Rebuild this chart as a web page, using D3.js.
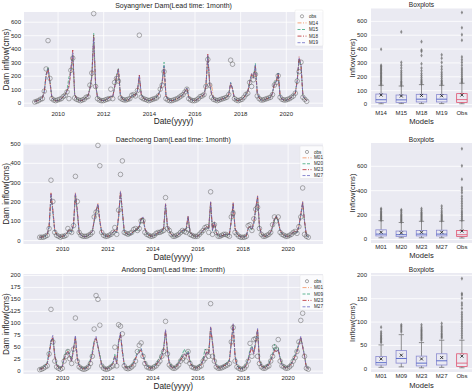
<!DOCTYPE html>
<html><head><meta charset="utf-8">
<script src="https://cdn.jsdelivr.net/npm/d3@7"></script>
<style>
body{margin:0;background:#fff;}
svg{display:block;font-family:"Liberation Sans",Arial,sans-serif;}
</style></head><body>
<svg id="c" width="474" height="391"></svg>
<script>
// ---------------- DATA ----------------
const startYear = 2009;
const xTickYears = [2010, 2012, 2014, 2016, 2018, 2020];

// Soyangriver (monthly, Jan 2009 - Dec 2020)
const soyangObs = [
 5,10,15,25,30,85,250,460,180,30,20,15,
 20,25,30,45,55,80,30,240,330,35,25,20,
 15,20,25,40,45,130,220,660,120,30,20,15,
 15,20,25,30,100,30,150,180,160,35,25,20,
 20,25,30,55,60,50,90,500,40,30,25,20,
 15,20,25,30,35,50,100,130,230,30,20,15,
 15,20,25,30,40,50,60,80,100,30,20,15,
 15,20,30,45,50,60,120,320,130,40,25,20,
 15,20,25,30,35,40,60,315,285,30,20,15,
 20,25,40,60,70,150,120,170,210,50,30,20,
 20,25,30,35,40,60,130,150,200,40,25,20,
 20,25,30,40,50,70,160,230,300,40,25,10];
const soyangM14 = [
 10,12,18,25,35,80,200,240,150,40,20,15,
 15,20,30,45,60,90,110,220,330,60,30,20,
 15,18,25,40,50,100,180,440,130,40,25,18,
 15,18,25,35,50,40,110,190,240,60,30,20,
 18,20,30,50,60,55,90,180,60,35,25,20,
 15,18,25,30,40,60,90,150,240,50,25,18,
 15,18,25,30,40,50,60,80,105,40,25,18,
 15,20,30,45,50,60,120,330,140,130,30,20,
 15,18,25,30,35,40,60,140,100,30,20,15,
 20,25,40,60,80,150,220,180,250,70,35,20,
 18,22,30,35,40,70,140,150,210,50,25,20,
 18,22,30,40,55,70,160,310,270,50,30,15];
const soyangM15 = [
 10,14,20,26,38,85,210,265,160,42,22,15,
 16,20,28,45,60,95,190,230,350,60,30,20,
 15,18,26,42,52,110,200,515,140,42,25,18,
 15,18,26,36,48,45,120,200,255,62,30,20,
 18,20,30,52,62,58,95,190,65,35,25,20,
 15,18,25,32,42,62,95,160,300,55,25,18,
 15,18,25,30,42,52,62,85,110,40,25,18,
 15,20,30,45,52,62,125,345,130,60,30,20,
 15,18,25,30,35,42,62,150,105,32,20,15,
 20,25,42,62,85,160,200,190,290,70,35,20,
 18,22,30,36,42,75,150,160,220,50,25,20,
 18,22,30,42,58,72,170,320,280,52,30,15];
const soyangM18 = [
 10,12,18,25,35,80,205,255,155,40,20,15,
 15,20,30,45,58,90,130,250,390,62,30,20,
 15,18,25,40,50,105,190,500,135,40,25,18,
 15,18,25,35,50,42,115,195,250,60,30,20,
 18,20,30,50,60,55,85,210,60,35,25,20,
 15,18,25,30,40,60,90,150,260,50,25,18,
 15,18,25,30,40,50,60,85,110,40,25,18,
 15,20,30,45,50,60,120,360,140,60,30,20,
 15,18,25,30,35,40,60,145,100,30,20,15,
 20,25,40,60,80,150,210,185,270,70,35,20,
 18,22,30,35,40,70,140,155,215,50,25,20,
 18,22,30,40,55,70,160,340,275,50,30,15];
const soyangM19 = [
 10,12,18,25,35,78,195,250,150,40,20,15,
 15,20,30,45,58,88,120,240,370,60,30,20,
 15,18,25,40,50,100,185,480,130,40,25,18,
 15,18,25,35,50,40,112,190,245,60,30,20,
 18,20,30,50,60,55,85,200,60,35,25,20,
 15,18,25,30,40,60,90,150,270,50,25,18,
 15,18,25,30,40,50,60,82,108,40,25,18,
 15,20,30,45,50,60,118,350,140,70,30,20,
 15,18,25,30,35,40,60,148,100,30,20,15,
 20,25,40,60,80,150,215,182,280,70,35,20,
 18,22,30,35,40,70,140,152,218,50,25,20,
 18,22,30,40,55,70,160,330,278,50,30,15];

// Daechoeng
const daechoengObs = [
 15,15,15,20,25,60,310,200,40,25,20,15,
 20,20,25,60,45,40,75,330,200,40,25,20,
 20,20,25,30,40,120,145,490,385,40,25,20,
 20,25,30,40,65,30,155,340,410,40,35,30,
 35,40,55,60,50,60,100,100,40,30,25,20,
 20,25,35,40,40,45,50,220,60,50,30,20,
 20,25,30,40,50,45,40,55,30,25,20,20,
 20,30,40,50,65,70,40,250,30,80,40,20,
 20,25,30,30,25,20,120,140,40,30,20,15,
 15,15,20,75,80,50,110,160,170,60,30,20,
 20,25,30,40,80,120,100,120,40,30,25,20,
 20,25,30,40,45,35,70,120,270,30,20,15];
const daechoengM01 = [
 15,15,18,22,30,70,245,150,50,30,20,15,
 20,22,30,45,50,45,80,245,150,40,25,20,
 18,20,25,35,45,100,150,190,100,40,28,22,
 20,22,30,40,50,40,120,255,150,45,35,30,
 30,35,45,55,55,70,110,120,60,35,28,22,
 20,25,30,40,40,45,60,190,70,50,30,22,
 20,22,30,40,50,50,60,125,40,30,22,20,
 20,28,38,50,60,70,60,200,50,95,40,22,
 20,22,28,30,28,30,100,195,60,35,22,18,
 15,18,22,60,70,55,90,160,230,70,32,22,
 20,22,30,40,70,110,125,100,50,35,25,20,
 20,22,30,40,45,40,70,130,200,100,22,18];
const daechoengM20 = [
 15,15,18,22,28,65,230,140,48,28,20,15,
 20,22,28,42,48,42,75,235,140,38,25,20,
 18,20,25,33,42,95,145,180,95,38,26,20,
 20,22,28,38,48,38,115,245,140,42,33,28,
 28,33,42,52,52,65,105,115,58,33,26,20,
 20,24,28,38,38,42,58,180,65,48,28,20,
 20,22,28,38,48,48,58,120,38,28,22,20,
 20,26,36,48,58,66,58,190,48,90,38,22,
 20,22,26,28,26,28,95,185,58,33,22,18,
 15,18,22,58,66,52,85,155,220,66,30,22,
 20,22,28,38,66,105,120,95,48,33,24,20,
 20,22,28,38,42,38,66,125,190,95,22,18];
const daechoengM23 = [
 15,16,18,24,30,72,240,155,52,30,20,15,
 20,22,30,46,52,46,82,240,155,40,25,20,
 18,20,26,36,46,102,155,185,102,40,28,22,
 20,22,30,42,52,42,122,250,152,46,35,30,
 30,35,46,56,56,72,112,118,62,35,28,22,
 20,25,30,40,42,46,62,185,72,50,30,22,
 20,22,30,40,52,52,62,122,42,30,22,20,
 20,28,38,50,62,72,62,195,52,92,40,22,
 20,22,28,30,28,32,102,190,62,35,22,18,
 15,18,22,62,72,56,92,165,225,72,32,22,
 20,22,30,42,72,112,122,102,52,35,25,20,
 20,22,30,42,46,42,72,132,195,98,22,18];
const daechoengM27 = [
 15,15,18,23,31,70,242,152,50,30,20,15,
 20,22,30,45,50,45,80,242,152,40,25,20,
 18,20,25,35,45,100,152,188,100,40,28,22,
 20,22,30,40,50,40,120,252,150,45,35,30,
 30,35,45,55,55,70,110,120,60,35,28,22,
 20,25,30,40,40,45,60,188,70,50,30,22,
 20,22,30,40,50,50,60,124,40,30,22,20,
 20,28,38,50,60,70,60,198,50,94,40,22,
 20,22,28,30,28,30,100,192,60,35,22,18,
 15,18,22,60,70,55,90,162,228,70,32,22,
 20,22,30,40,70,110,124,100,50,35,25,20,
 20,22,30,40,45,40,70,130,198,100,22,18];

// Andong
const andongObs = [
 2,3,5,8,10,35,128,60,20,8,5,3,
 5,20,30,40,25,15,45,110,20,8,5,3,
 3,5,8,15,30,87,157,149,95,10,5,3,
 3,5,8,10,49,10,96,93,77,10,5,4,
 5,8,12,20,40,53,58,30,15,8,6,5,
 5,8,10,15,20,30,40,103,35,12,8,5,
 5,8,12,20,25,30,20,40,15,8,6,5,
 5,8,10,20,25,40,30,140,30,20,8,5,
 5,6,8,10,12,15,60,90,20,8,5,3,
 3,5,10,20,57,30,65,67,30,15,8,5,
 5,8,10,20,30,50,45,65,20,10,8,5,
 5,8,12,20,27,40,60,105,120,30,5,3];
const andongM01 = [
 3,4,6,10,15,35,60,72,30,12,6,4,
 8,25,35,40,30,20,45,72,25,10,6,4,
 4,6,10,20,35,60,70,50,30,12,6,4,
 4,6,10,15,30,15,60,78,40,12,6,5,
 6,10,15,25,35,40,45,30,18,10,7,5,
 6,8,12,18,22,30,45,85,40,15,8,6,
 6,10,15,22,28,35,30,40,18,10,7,5,
 6,10,12,22,30,40,35,92,60,22,10,6,
 5,7,10,12,15,20,60,97,30,10,6,4,
 4,6,12,22,40,50,35,60,88,20,10,6,
 6,10,12,22,30,45,40,45,25,12,8,6,
 6,10,14,22,30,40,55,70,50,30,6,4];
const andongM09 = [
 4,5,8,12,18,40,62,68,35,14,8,5,
 10,28,40,44,34,24,48,68,28,12,8,5,
 5,8,12,24,40,62,66,52,34,14,8,5,
 5,8,12,18,34,18,62,74,44,14,8,6,
 8,12,18,28,38,44,46,34,22,12,8,6,
 8,10,15,22,28,36,50,80,45,18,10,7,
 8,12,18,25,35,45,35,42,22,12,8,6,
 8,12,15,25,45,42,40,88,58,25,12,7,
 6,8,12,15,18,24,58,94,34,12,8,5,
 5,8,15,25,45,52,40,62,84,24,12,7,
 8,12,15,25,35,55,45,48,28,15,10,7,
 8,12,16,25,34,45,58,68,52,32,8,5];
const andongM23 = [
 3,4,6,10,15,33,58,70,30,12,6,4,
 8,24,34,40,30,20,44,70,25,10,6,4,
 4,6,10,20,34,58,68,50,30,12,6,4,
 4,6,10,15,30,15,58,76,40,12,6,5,
 6,10,15,25,34,38,44,30,18,10,7,5,
 6,8,12,18,22,30,44,84,40,15,8,6,
 6,10,15,22,28,33,30,38,18,10,7,5,
 6,10,12,22,30,40,35,90,58,22,10,6,
 5,7,10,12,15,20,58,96,30,10,6,4,
 4,6,12,22,38,48,35,58,86,20,10,6,
 6,10,12,22,30,42,40,44,25,12,8,6,
 6,10,14,22,30,40,54,70,50,30,6,4];
const andongM27 = [
 3,4,6,10,15,36,62,74,30,12,6,4,
 8,25,35,40,30,20,46,74,25,10,6,4,
 4,6,10,20,35,62,72,50,30,12,6,4,
 4,6,10,15,30,15,62,80,40,12,6,5,
 6,10,15,25,35,40,46,30,18,10,7,5,
 6,8,12,18,22,30,46,86,40,15,8,6,
 6,10,15,22,28,35,30,40,18,10,7,5,
 6,10,12,22,30,40,35,92,60,22,10,6,
 5,7,10,12,15,20,60,98,30,10,6,4,
 4,6,12,22,40,50,35,60,88,20,10,6,
 6,10,12,22,30,45,40,45,25,12,8,6,
 6,10,14,22,30,40,55,72,50,30,6,4];

// Boxplot statistics
const soyangBoxNames = ["M14","M15","M18","M19","Obs"];
const soyangQ1 = [12,12,15,15,12];
const soyangMedian = [31,30,35,35,32];
const soyangQ3 = [72,65,70,68,75];
const soyangLow = [2,3,3,3,2];
const soyangHigh = [135,130,140,135,150];
const soyangMean = [65,58,62,60,65];
const soyangOutliers = [
 [140,150,160,170,180,190,200,210,220,230,240,250,260,270,280,395],
 [135,145,155,165,180,195,210,225,240,260,280,300,520],
 [145,155,165,175,190,205,220,240,260,290,350,380,390,450],
 [140,150,160,170,185,200,215,230,250,270,300,330,355],
 [155,165,175,185,200,215,230,245,260,280,300,320,340,460,500,550,660]];

const daechoengBoxNames = ["M01","M20","M23","M27","Obs"];
const daechoengQ1 = [25,20,25,25,20];
const daechoengMedian = [40,35,40,40,35];
const daechoengQ3 = [75,65,70,72,70];
const daechoengLow = [10,10,10,10,8];
const daechoengHigh = [150,135,145,145,150];
const daechoengMean = [55,50,55,55,65];
const daechoengOutliers = [
 [155,165,175,185,195,205,215,225,240,250],
 [140,150,160,170,180,190,200,215,230,240],
 [150,160,170,180,190,200,210,220,235,250],
 [150,160,170,180,190,200,215,230,250,270],
 [155,170,185,200,215,230,250,270,290,310,330,350,380,400,420,490,600,740]];

const andongBoxNames = ["M01","M09","M23","M27","Obs"];
const andongQ1 = [7,11,5,7,4];
const andongMedian = [12,21,11,16,11];
const andongQ3 = [25,38,26,31,31];
const andongLow = [2,3,1,2,1];
const andongHigh = [50,72,55,60,60];
const andongMean = [20,28,20,23,26];
const andongOutliers = [
 [55,58,61,64,67,70,74,78,88],
 [78,82,86,90,93],
 [60,63,66,69,72,75,78,81,84,88,93],
 [65,68,71,74,78,82,86,90,96],
 [65,70,75,80,85,90,95,100,105,110,115,120,128,135,140,150,157,160,192]];

// ---------------- DRAWING ----------------
const svg = d3.select("#c");
const BG = "#EAEAF2", TXT = "#262626";
const styleOrange = {color:"#f28e5a", dash:"4,1.5,1,1.5"};
const styleGreen = {color:"#3aa57a", dash:"3,1.5"};
const styleRed = {color:"#b8262b", dash:"4,1.5,1,1.5"};
const stylePurple = {color:"#6c6cc4", dash:"3,1.5"};

function tsPanel(c){
  const x = d3.scaleLinear().domain(c.xd).range([c.x0, c.x1]);
  const y = d3.scaleLinear().domain(c.yd).range([c.y1, c.y0]);
  const g = svg.append("g");
  g.append("rect").attr("x",c.x0).attr("y",c.y0).attr("width",c.x1-c.x0).attr("height",c.y1-c.y0).attr("fill",BG);
  const ax = g.append("g").attr("transform",`translate(0,${c.y1})`)
    .call(d3.axisBottom(x).tickValues(xTickYears).tickFormat(d3.format("d")).tickSize(-(c.y1-c.y0)).tickPadding(c.xpad));
  const ay = g.append("g").attr("transform",`translate(${c.x0},0)`)
    .call(d3.axisLeft(y).tickValues(c.yticks).tickSize(-(c.x1-c.x0)).tickPadding(3));
  [ax,ay].forEach(a=>{
    a.select(".domain").remove();
    a.selectAll("line").attr("stroke","#fff").attr("stroke-width",0.8);
    a.selectAll("text").attr("fill",TXT).style("font-size","6px");
  });
  const line = d3.line().x((d,i)=>x(startYear + i/12)).y(d=>y(d));
  const cl = g.append("g");
  c.models.forEach(m=>{
    cl.append("path").attr("d",line(m.vals)).attr("fill","none")
      .attr("stroke",m.style.color).attr("stroke-width",0.9).attr("stroke-dasharray",m.style.dash).attr("opacity",0.85);
  });
  g.append("g").selectAll("circle").data(c.obs).join("circle")
    .attr("cx",(d,i)=>x(startYear + i/12)).attr("cy",d=>y(d)).attr("r",2.3)
    .attr("fill","none").attr("stroke","#555").attr("stroke-width",0.55).attr("opacity",0.85);
  // title & labels
  svg.append("text").attr("x",(c.x0+c.x1)/2).attr("y",c.titleY).attr("text-anchor","middle")
    .attr("fill",TXT).style("font-size","7px").text(c.title);
  svg.append("text").attr("x",(c.x0+c.x1)/2).attr("y",c.xlabY).attr("text-anchor","middle")
    .attr("fill",TXT).style("font-size","8.3px").text("Date(yyyy)");
  svg.append("text").attr("transform",`translate(8.5,${(c.y0+c.y1)/2}) rotate(-90)`).attr("text-anchor","middle")
    .attr("fill",TXT).style("font-size","8.3px").text("Dam inflow(cms)");
  // legend
  const L = c.legend;
  const lg = svg.append("g");
  lg.append("rect").attr("x",L.x).attr("y",L.y).attr("width",L.w).attr("height",L.row*5+3)
    .attr("rx",1).attr("fill","#fff").attr("fill-opacity",0.8).attr("stroke","#ddd").attr("stroke-width",0.4);
  const entries = [{name:"obs", obs:true}].concat(c.models);
  entries.forEach((e,i)=>{
    const cy = L.y + 3 + L.row*(i+0.5);
    if(e.obs){
      lg.append("circle").attr("cx",L.x+7).attr("cy",cy).attr("r",1.6).attr("fill","none").attr("stroke","#555").attr("stroke-width",0.5);
    } else {
      lg.append("line").attr("x1",L.x+2.5).attr("x2",L.x+11.5).attr("y1",cy).attr("y2",cy)
        .attr("stroke",e.style.color).attr("stroke-width",0.8).attr("stroke-dasharray",e.style.dash);
    }
    lg.append("text").attr("x",L.x+14).attr("y",cy+1.6).attr("fill",TXT).style("font-size","4.6px").text(e.name);
  });
}

function bpPanel(c){
  const x = d3.scaleBand().domain(c.names).range([c.x0,c.x1]);
  const y = d3.scaleLinear().domain(c.yd).range([c.y1,c.y0]);
  const g = svg.append("g");
  g.append("rect").attr("x",c.x0).attr("y",c.y0).attr("width",c.x1-c.x0).attr("height",c.y1-c.y0).attr("fill",BG);
  const ay = g.append("g").attr("transform",`translate(${c.x0},0)`)
    .call(d3.axisLeft(y).tickValues(c.yticks).tickSize(-(c.x1-c.x0)).tickPadding(4));
  const ax = g.append("g").attr("transform",`translate(0,${c.y1})`)
    .call(d3.axisBottom(x).tickSize(0).tickPadding(c.xpad));
  [ax,ay].forEach(a=>{
    a.select(".domain").remove();
    a.selectAll("line").attr("stroke","#fff").attr("stroke-width",0.8);
    a.selectAll("text").attr("fill",TXT).style("font-size","6px");
  });
  const bw = 10.5;
  c.names.forEach((n,i)=>{
    const cx = x(n) + x.bandwidth()/2;
    const edge = n==="Obs" ? "#e0506e" : "#8a8ad0";
    const bg = g.append("g");
    c.out[i].forEach(v=>{
      bg.append("path").attr("d",d3.symbol(d3.symbolDiamond,5)()).attr("transform",`translate(${cx},${y(v)})`)
        .attr("fill","#6a6a6a").attr("opacity",0.75);
    });
    bg.append("line").attr("x1",cx).attr("x2",cx).attr("y1",y(c.q3[i])).attr("y2",y(c.hi[i])).attr("stroke","#666").attr("stroke-width",0.7);
    bg.append("line").attr("x1",cx).attr("x2",cx).attr("y1",y(c.q1[i])).attr("y2",y(c.lo[i])).attr("stroke","#666").attr("stroke-width",0.7);
    [c.hi[i], c.lo[i]].forEach(v=>{
      bg.append("line").attr("x1",cx-bw/4).attr("x2",cx+bw/4).attr("y1",y(v)).attr("y2",y(v)).attr("stroke","#666").attr("stroke-width",0.7);
    });
    bg.append("rect").attr("x",cx-bw/2).attr("y",y(c.q3[i])).attr("width",bw).attr("height",y(c.q1[i])-y(c.q3[i]))
      .attr("fill","none").attr("stroke",edge).attr("stroke-width",0.8);
    bg.append("line").attr("x1",cx-bw/2).attr("x2",cx+bw/2).attr("y1",y(c.med[i])).attr("y2",y(c.med[i]))
      .attr("stroke", n==="Obs" ? "#e0506e" : "#3a4fc0").attr("stroke-width",0.8);
    const my = y(c.mean[i]), s=1.5;
    bg.append("path").attr("d",`M${cx-s},${my-s}L${cx+s},${my+s}M${cx-s},${my+s}L${cx+s},${my-s}`)
      .attr("stroke","#111").attr("stroke-width",0.8);
  });
  svg.append("text").attr("x",(c.x0+c.x1)/2).attr("y",c.titleY).attr("text-anchor","middle")
    .attr("fill",TXT).style("font-size","6.6px").text("Boxplots");
  svg.append("text").attr("x",(c.x0+c.x1)/2).attr("y",c.xlabY).attr("text-anchor","middle")
    .attr("fill",TXT).style("font-size","7.6px").text("Models");
  svg.append("text").attr("transform",`translate(354.5,${(c.y0+c.y1)/2}) rotate(-90)`).attr("text-anchor","middle")
    .attr("fill",TXT).style("font-size","7.6px").text("Inflow(cms)");
}

tsPanel({title:"Soyangriver Dam(Lead time: 1month)", obs:soyangObs,
  models:[{name:"M14",vals:soyangM14,style:styleOrange},{name:"M15",vals:soyangM15,style:styleGreen},
          {name:"M18",vals:soyangM18,style:styleRed},{name:"M19",vals:soyangM19,style:stylePurple}],
  x0:24,x1:323,y0:12,y1:107,xd:[2008.53,2021.63],yd:[-32,672],yticks:[0,100,200,300,400,500,600],
  xpad:4.5,titleY:8,xlabY:124,legend:{x:295,y:10,w:28,row:6.6}});
tsPanel({title:"Daechoeng Dam(Lead time: 1month)", obs:daechoengObs,
  models:[{name:"M01",vals:daechoengM01,style:styleOrange},{name:"M20",vals:daechoengM20,style:styleGreen},
          {name:"M23",vals:daechoengM23,style:styleRed},{name:"M27",vals:daechoengM27,style:stylePurple}],
  x0:23.5,x1:323,y0:143.5,y1:244,xd:[2008.28,2021.57],yd:[-20,500],yticks:[0,100,200,300,400,500],
  xpad:2.5,titleY:141.5,xlabY:259.5,legend:{x:300,y:146,w:23,row:5.9}});
tsPanel({title:"Andong Dam(Lead time: 1month)", obs:andongObs,
  models:[{name:"M01",vals:andongM01,style:styleOrange},{name:"M09",vals:andongM09,style:styleGreen},
          {name:"M23",vals:andongM23,style:styleRed},{name:"M27",vals:andongM27,style:stylePurple}],
  x0:23.5,x1:323,y0:274,y1:374,xd:[2008.28,2021.57],yd:[-7,202],yticks:[0,25,50,75,100,125,150,175,200],
  xpad:2,titleY:271.5,xlabY:389,legend:{x:300,y:275,w:23,row:6.4}});

bpPanel({names:soyangBoxNames,q1:soyangQ1,med:soyangMedian,q3:soyangQ3,lo:soyangLow,hi:soyangHigh,mean:soyangMean,out:soyangOutliers,
  x0:371,x1:472,y0:8.5,y1:107.5,yd:[-25,689],yticks:[0,100,200,300,400,500,600],xpad:3,titleY:6.5,xlabY:123.5});
bpPanel({names:daechoengBoxNames,q1:daechoengQ1,med:daechoengMedian,q3:daechoengQ3,lo:daechoengLow,hi:daechoengHigh,mean:daechoengMean,out:daechoengOutliers,
  x0:371,x1:472,y0:143,y1:243,yd:[-33,787],yticks:[0,200,400,600],xpad:2,titleY:142,xlabY:258});
bpPanel({names:andongBoxNames,q1:andongQ1,med:andongMedian,q3:andongQ3,lo:andongLow,hi:andongHigh,mean:andongMean,out:andongOutliers,
  x0:371,x1:472,y0:273,y1:372,yd:[-8,204],yticks:[0,50,100,150,200],xpad:1.5,titleY:271.5,xlabY:388});
</script>
</body></html>
